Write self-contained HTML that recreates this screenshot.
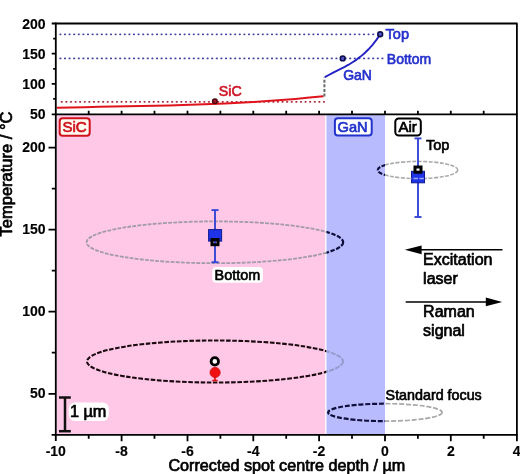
<!DOCTYPE html>
<html><head><meta charset="utf-8"><title>Temperature vs depth</title>
<style>
html,body{margin:0;padding:0;background:#fff;width:520px;height:474px;overflow:hidden}
svg{display:block}
text{font-family:"Liberation Sans",Arial,sans-serif;paint-order:stroke fill;stroke-linejoin:round}

</style></head><body>
<svg width="520" height="474" viewBox="0 0 520 474">
<defs>
<clipPath id="cpBlue"><rect x="326.5" y="114" width="58.5" height="321"/></clipPath>
<clipPath id="cpNotBlue"><rect x="0" y="0" width="326.5" height="474"/><rect x="385" y="0" width="200" height="474"/></clipPath>
<clipPath id="cpSq"><rect x="411.5" y="172.5" width="13" height="10.3"/></clipPath>
</defs>
<rect x="0" y="0" width="520" height="474" fill="#fff"/>

<!-- ===== bottom panel backgrounds ===== -->
<rect x="56.7" y="115.1" width="268.5" height="319" fill="#ffc8e6"/>
<rect x="326.5" y="115.1" width="58.5" height="319" fill="#b8bcff"/>

<!-- ===== top panel content ===== -->
<g fill="none" stroke-linecap="round">
<line x1="60.2" y1="34.3" x2="377.5" y2="34.3" stroke="#4444a0" stroke-width="1.8" stroke-dasharray="0.4 4.2"/>
<line x1="60.2" y1="58.4" x2="383" y2="58.4" stroke="#4444a0" stroke-width="1.8" stroke-dasharray="0.4 4.2"/>
<line x1="61.5" y1="101.8" x2="325" y2="101.8" stroke="#a82838" stroke-width="1.7" stroke-dasharray="0.5 4.1"/>
</g>
<path d="M56.8,107.72 L70.8,107.41 L84.9,107.13 L98.9,106.86 L112.9,106.60 L127.0,106.33 L141.0,106.05 L155.1,105.74 L169.1,105.40 L183.1,105.00 L197.2,104.55 L211.2,104.03 L225.2,103.44 L239.3,102.75 L253.3,101.96 L267.4,101.07 L281.4,100.05 L295.4,98.90 L309.5,97.61 L323.5,96.17" fill="none" stroke="#e0141c" stroke-width="2" stroke-linejoin="round"/>
<line x1="324.4" y1="96.5" x2="324.4" y2="77.5" stroke="#6a6a6a" stroke-width="2" stroke-dasharray="3 1.6"/>
<path d="M324.8,77.2 L328.8,75.0 L332.7,72.9 L336.7,70.9 L340.7,68.9 L344.7,66.9 L348.6,64.7 L352.6,62.3 L356.6,59.6 L360.5,56.6 L364.5,53.2 L368.5,49.3 L372.5,44.9 L376.4,39.9 L380.4,34.2" fill="none" stroke="#2222c4" stroke-width="1.9" stroke-linejoin="round"/>
<circle cx="380.2" cy="34.2" r="2.4" fill="#5454cc" stroke="#0c0c48" stroke-width="1.6"/>
<circle cx="342.7" cy="58.4" r="2.4" fill="#5454cc" stroke="#0c0c48" stroke-width="1.6"/>
<circle cx="214.9" cy="101.3" r="2.3" fill="#a8182c" stroke="#4a0810" stroke-width="1.5"/>
<g font-size="14" fill="#2530cc" stroke="#2530cc" stroke-width="0.65">
<text x="385.6" y="39.1" font-size="14.5">Top</text>
<text x="386.8" y="63.6">Bottom</text>
<text x="343.2" y="80">GaN</text>
</g>
<text x="218.8" y="95.5" font-size="14.2" fill="#d01628" stroke="#d01628" stroke-width="0.65">SiC</text>

<!-- ===== bottom panel content ===== -->
<!-- upper ellipse (Bottom) -->
<g fill="none">
<ellipse cx="214.9" cy="242.3" rx="128.3" ry="20.9" stroke="#a09aa9" stroke-width="1.8" stroke-dasharray="3.8 1.3" clip-path="url(#cpNotBlue)"/>
<ellipse cx="214.9" cy="242.3" rx="128.3" ry="20.9" stroke="#0e0e3a" stroke-width="2.2" stroke-dasharray="4.4 1.6" clip-path="url(#cpBlue)"/>
<!-- lower ellipse -->
<ellipse cx="215" cy="361.5" rx="128" ry="21" stroke="#1a0a10" stroke-width="2.1" stroke-dasharray="4.6 1.6" clip-path="url(#cpNotBlue)"/>
<ellipse cx="215" cy="361.5" rx="128" ry="21" stroke="#939bc9" stroke-width="2" stroke-dasharray="5 1.2" clip-path="url(#cpBlue)"/>
<!-- top ellipse -->
<ellipse cx="417.75" cy="170" rx="40" ry="8.6" stroke="#aaaaaa" stroke-width="1.6" stroke-dasharray="4 1.5" clip-path="url(#cpNotBlue)"/>
<ellipse cx="417.75" cy="170" rx="40" ry="8.6" stroke="#0e0e3a" stroke-width="2.1" stroke-dasharray="4.5 1.5" clip-path="url(#cpBlue)"/>
<!-- standard focus ellipse -->
<ellipse cx="385.1" cy="412.4" rx="57" ry="8.7" stroke="#a8a8a8" stroke-width="1.7" stroke-dasharray="5 1.8" clip-path="url(#cpNotBlue)"/>
<ellipse cx="385.1" cy="412.4" rx="57" ry="8.7" stroke="#0e0e3a" stroke-width="2.2" stroke-dasharray="5 1.8" clip-path="url(#cpBlue)"/>
</g>

<!-- error bars -->
<g stroke="#3646d4" stroke-width="1.9" fill="none">
<line x1="418" y1="138.4" x2="418" y2="217"/>
<line x1="414.5" y1="138.4" x2="421.5" y2="138.4"/>
<line x1="414.5" y1="217" x2="421.5" y2="217"/>
<line x1="215" y1="210.1" x2="215" y2="262.2"/>
<line x1="211.5" y1="210.1" x2="218.5" y2="210.1"/>
<line x1="211.5" y1="262.2" x2="218.5" y2="262.2"/>
</g>
<!-- markers Top -->
<rect x="411.5" y="171.3" width="13" height="11.5" fill="#1f33e8" stroke="#101a90" stroke-width="1"/>
<rect x="415" y="167" width="6" height="5.2" fill="#fff" stroke="#000" stroke-width="3"/>
<ellipse cx="417.75" cy="170" rx="40" ry="8.6" fill="none" stroke="#9eaaf4" stroke-width="1.5" stroke-dasharray="4.5 1.5" clip-path="url(#cpSq)"/>
<!-- markers Bottom -->
<rect x="208.6" y="229.6" width="13" height="11.5" fill="#1f33e8" stroke="#101a90" stroke-width="1"/>
<rect x="212" y="239.5" width="6" height="5.2" fill="none" stroke="#000" stroke-width="3"/>
<!-- red point -->
<line x1="215" y1="376" x2="215" y2="380.5" stroke="#e01010" stroke-width="1.6"/>
<line x1="212.3" y1="380.5" x2="217.6" y2="380.5" stroke="#e01010" stroke-width="1.6"/>
<circle cx="215.1" cy="372.5" r="5.1" fill="#f01010" stroke="#c80a0a" stroke-width="0.8"/>
<circle cx="214.8" cy="361.4" r="3.7" fill="#fff" stroke="#000" stroke-width="2.8"/>

<!-- labels with boxes -->
<rect x="59.7" y="118.2" width="30" height="17.5" rx="3" fill="#fffaf0" stroke="#d0121c" stroke-width="2"/>
<text x="74.6" y="131.6" font-size="15" fill="#d0121c" stroke="#d0121c" stroke-width="0.7" text-anchor="middle">SiC</text>
<rect x="334.9" y="118.3" width="36.8" height="17.3" rx="3" fill="#fff" stroke="#2233cc" stroke-width="2"/>
<text x="352.6" y="131.6" font-size="14.6" fill="#2233cc" stroke="#2233cc" stroke-width="0.7" text-anchor="middle">GaN</text>
<rect x="395.3" y="118.5" width="25.5" height="17" rx="3.5" fill="#fff" stroke="#000" stroke-width="2"/>
<text x="407.6" y="131.6" font-size="15" fill="#000" stroke="#000" stroke-width="0.7" text-anchor="middle">Air</text>

<text x="426" y="150.1" font-size="14.5" fill="#000" stroke="#000" stroke-width="0.65">Top</text>
<rect x="212.3" y="266.9" width="50.7" height="15.9" rx="4" fill="#fff"/>
<text x="214.6" y="280" font-size="14.4" fill="#000" stroke="#000" stroke-width="0.65">Bottom</text>

<!-- arrows -->
<line x1="420" y1="249.8" x2="502.5" y2="249.8" stroke="#000" stroke-width="1.5"/>
<polygon points="404.8,249.8 421.6,245.6 421.6,254.2" fill="#000"/>
<line x1="405.7" y1="302" x2="488" y2="302" stroke="#000" stroke-width="1.5"/>
<polygon points="502.2,302 485.8,297.5 485.8,306.3" fill="#000"/>
<g font-size="16" fill="#000" stroke="#000" stroke-width="0.7">
<text x="423.1" y="265.4">Excitation</text>
<text x="423.1" y="284.4">laser</text>
<text x="423.1" y="317.3">Raman</text>
<text x="423.1" y="336.3">signal</text>
</g>
<text x="385.6" y="400" font-size="14.3" fill="#000" stroke="#000" stroke-width="0.65">Standard focus</text>

<!-- scale bar -->
<g stroke="#111" stroke-width="2.5">
<line x1="65" y1="397.5" x2="65" y2="431.2"/>
<line x1="59" y1="397.5" x2="70.8" y2="397.5"/>
<line x1="59" y1="431.2" x2="70.8" y2="431.2"/>
</g>
<rect x="68.8" y="402.5" width="40" height="18.5" rx="6" fill="#fff"/>
<text x="69.9" y="417" font-size="16.3" fill="#000" stroke="#000" stroke-width="0.7">1 µm</text>

<!-- ===== axes / frames ===== -->
<g stroke="#000" stroke-width="1.8" fill="none">
<line x1="51.7" y1="23.5" x2="517.5" y2="23.5"/>
<line x1="516.9" y1="23.5" x2="516.9" y2="435.4"/>
<line x1="55.8" y1="22.5" x2="55.8" y2="441"/>
<line x1="51.7" y1="114.4" x2="517.5" y2="114.4" stroke-width="1.6"/>
<line x1="51.6" y1="434.9" x2="517.5" y2="434.9" stroke-width="1.6"/>
</g>
<g stroke="#000" stroke-width="1.8" fill="none">
<!-- top panel y ticks -->
<path d="M51.7,53.7H55.8M51.7,83.8H55.8M53.2,38.6H55.8M53.2,68.8H55.8M53.2,98.9H55.8"/>
<!-- top panel x ticks (inward, up) -->
<path d="M88.7,114V110.8M121.6,114V110.8M154.5,114V110.8M187.5,114V110.8M220.4,114V110.8M253.3,114V110.8M286.2,114V110.8M319.1,114V110.8M352,114V110.8M385,114V110.8M417.9,114V110.8M450.8,114V110.8M483.7,114V110.8"/>
<!-- bottom panel y ticks -->
<path d="M48.5,147.7H55.8M48.5,229.7H55.8M48.5,311.7H55.8M48.5,393.8H55.8M51.8,188.7H55.8M51.8,270.7H55.8M51.8,352.7H55.8"/>
<!-- bottom panel x ticks (down) -->
<path d="M121.6,434.5V441.3M187.5,434.5V441.3M253.3,434.5V441.3M319.1,434.5V441.3M385,434.5V441.3M450.8,434.5V441.3M516.9,434.5V441.3M88.7,434.5V438.8M154.5,434.5V438.8M220.4,434.5V438.8M286.2,434.5V438.8M352,434.5V438.8M417.9,434.5V438.8M483.7,434.5V438.8"/>
</g>

<!-- tick labels -->
<g font-size="14" font-weight="bold" fill="#000" stroke="#000" stroke-width="0.15" text-anchor="end">
<text x="45.5" y="28.7">200</text>
<text x="45.5" y="58.9">150</text>
<text x="45.5" y="89">100</text>
<text x="45.5" y="119.2">50</text>
<text x="45.5" y="152">200</text>
<text x="45.5" y="234">150</text>
<text x="45.5" y="316">100</text>
<text x="45.5" y="398.1">50</text>
</g>
<g font-size="14" font-weight="bold" fill="#000" stroke="#000" stroke-width="0.15" text-anchor="middle">
<text x="55.8" y="456">-10</text>
<text x="121.6" y="456">-8</text>
<text x="187.5" y="456">-6</text>
<text x="253.3" y="456">-4</text>
<text x="319.1" y="456">-2</text>
<text x="385" y="456">0</text>
<text x="450.8" y="456">2</text>
<text x="516.6" y="456">4</text>
</g>
<text x="168.4" y="470.8" font-size="16.2" fill="#000" stroke="#000" stroke-width="0.7">Corrected spot centre depth / µm</text>
<text transform="translate(11.6,174) rotate(-90)" font-size="16.5" fill="#000" stroke="#000" stroke-width="0.7" text-anchor="middle">Temperature / °C</text>
</svg>
</body></html>
